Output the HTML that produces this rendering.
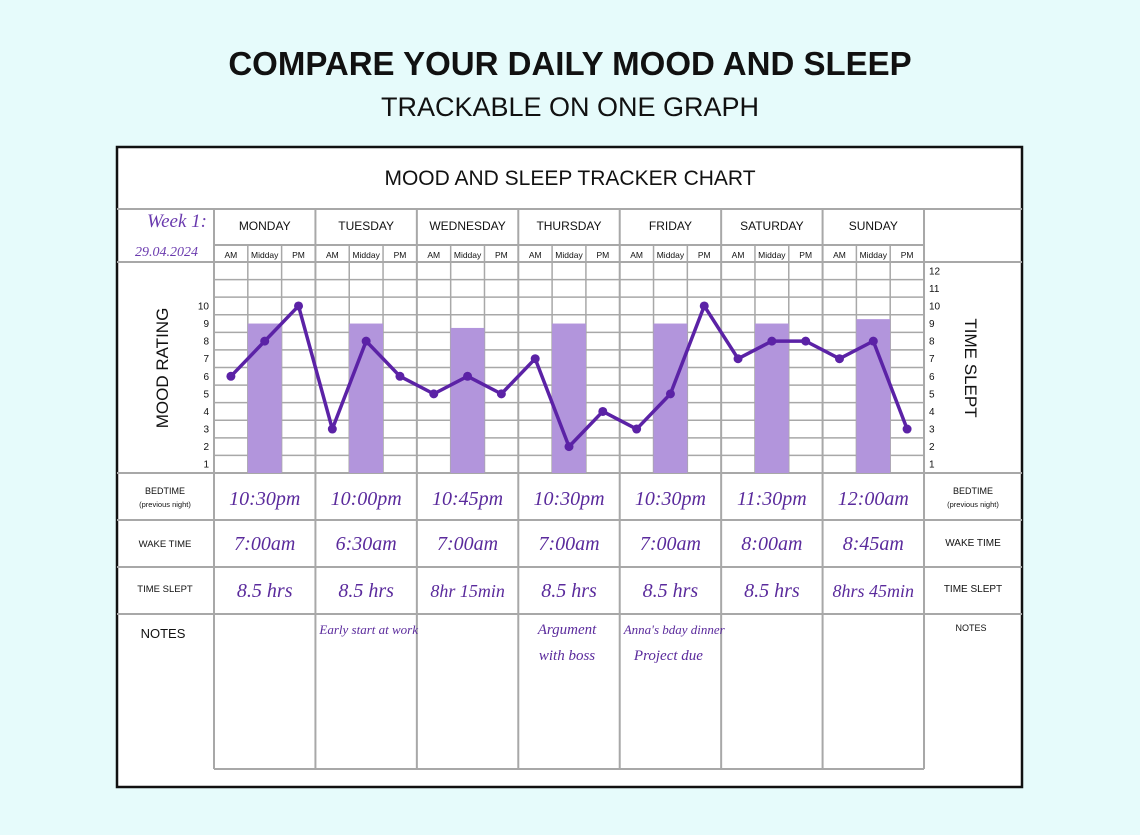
<!DOCTYPE html>
<html><head><meta charset="utf-8"><style>
body{margin:0;background:#e6fbfb;width:1140px;height:835px;overflow:hidden;font-family:"Liberation Sans",sans-serif}
svg{display:block}
.hd{font-family:"Liberation Sans",sans-serif;fill:#111}
.sc{font-family:"Liberation Serif",serif;font-style:italic;fill:#5a2a9c}
</style></head><body>
<svg id="s" width="1140" height="835">
<text x="570" y="75" text-anchor="middle" font-size="33" font-weight="bold" class="hd">COMPARE YOUR DAILY MOOD AND SLEEP</text>
<text x="570" y="116" text-anchor="middle" font-size="27" class="hd">TRACKABLE ON ONE GRAPH</text>
<rect x="117" y="147" width="905" height="640" fill="#fff" stroke="#111" stroke-width="2.5"/>
<text x="570" y="185" text-anchor="middle" font-size="21" class="hd">MOOD AND SLEEP TRACKER CHART</text>
<g id="grid"></g>
<g id="bars"></g>
<g id="line"></g>
<g id="txt"></g>
</svg>
<script>
const days=["MONDAY","TUESDAY","WEDNESDAY","THURSDAY","FRIDAY","SATURDAY","SUNDAY"];
const mood=[6,8,10,3,8,6,5,6,5,7,2,4,3,5,10,7,8,8,7,8,3];
const sleep=[8.5,8.5,8.25,8.5,8.5,8.5,8.75];
const yTicks=[1,2,3,4,5,6,7,8,9,10];
const rTicks=[1,2,3,4,5,6,7,8,9,10,11,12];
const bed=["10:30pm","10:00pm","10:45pm","10:30pm","10:30pm","11:30pm","12:00am"];
const wake=["7:00am","6:30am","7:00am","7:00am","7:00am","8:00am","8:45am"];
const slept=["8.5 hrs","8.5 hrs","8hr 15min","8.5 hrs","8.5 hrs","8.5 hrs","8hrs 45min"];
const notes=[[],["Early start at work"],[],["Argument","with boss"],["Anna's bday dinner","Project due"],[],[]];

const NS="http://www.w3.org/2000/svg";
function mk(p,t,a,txt){const e=document.createElementNS(NS,t);for(const k in a)e.setAttribute(k,a[k]);if(txt!==undefined)e.textContent=txt;document.getElementById(p).appendChild(e);return e;}
const X0=214,DW=101.43,GT=262,GB=473,RH=(GB-GT)/12;
const dx=i=>X0+i*DW;
const sx=i=>X0+(i+0.5)*DW/3;
const yMood=v=>GT+(12-v+0.5)*RH;
const yHrs=v=>GB-v*RH;
const G="#a8a8a8";
function ln(x1,y1,x2,y2,w){const l=mk("grid","line",{x1,y1,x2,y2,stroke:G,"stroke-width":w||2});}
// horizontal lines
ln(117,209,1022,209);ln(214,245,924,245);ln(214,262,924,262,2);ln(117,262,1022,262);
for(let k=1;k<12;k++)ln(214,GT+k*RH,924,GT+k*RH,1.5);
[473,520,567,614].forEach(y=>ln(117,y,1022,y));
ln(214,769,924,769);
// verticals
for(let i=0;i<=7;i++)ln(dx(i),209,dx(i),769);
for(let i=0;i<7;i++){for(let j=1;j<3;j++)ln(dx(i)+j*DW/3,245,dx(i)+j*DW/3,GB,1.5);}
// day headers
days.forEach((d,i)=>{
 const t=mk("txt","text",{x:dx(i)+DW/2,y:230,"text-anchor":"middle","font-size":12,class:"hd"},d);
 
 ["AM","Midday","PM"].forEach((s,j)=>{const u=mk("txt","text",{x:sx(i*3+j),y:258,"text-anchor":"middle","font-size":8.5,class:"hd"},s);
 });
 const b=mk("txt","text",{x:dx(i)+DW/2,y:505,"text-anchor":"middle","font-size":20,class:"sc"},bed[i]);
 
 const w=mk("txt","text",{x:dx(i)+DW/2,y:550,"text-anchor":"middle","font-size":20,class:"sc"},wake[i]);
 
 const s=mk("txt","text",{x:dx(i)+DW/2,y:597,"text-anchor":"middle","font-size":slept[i].length>8?18:20,class:"sc"},slept[i]);
 
 notes[i].forEach((n,k)=>{const e=mk("txt","text",{x:n.length>12?dx(i)+4:dx(i)+DW/2-2,y:634+k*26,"text-anchor":n.length>12?"start":"middle","font-size":n.length>15?13:15,class:"sc"},n);
 });
});
// sleep bars
sleep.forEach((v,i)=>{const r=mk("bars","rect",{x:dx(i)+DW/3,y:yHrs(v),width:DW/3,height:GB-yHrs(v),fill:"#b295dc"});
});
// mood line
const pl=mk("line","polyline",{points:mood.map((v,i)=>sx(i)+","+yMood(v)).join(" "),fill:"none",stroke:"#5b22a6","stroke-width":3.5,"stroke-linejoin":"round"});

mood.forEach((v,i)=>{const c=mk("line","circle",{cx:sx(i),cy:yMood(v),r:4.5,fill:"#5b22a6"});
});
// ticks
yTicks.forEach(v=>{const t=mk("txt","text",{x:209,y:yMood(v)+3.5,"text-anchor":"end","font-size":10,class:"hd"},v);
});
rTicks.forEach(v=>{const t=mk("txt","text",{x:929,y:yMood(v)+3.5,"font-size":10,class:"hd"},v);
});
</script>
<svg width="0" height="0" style="position:absolute"></svg>
<div style="position:absolute;left:0;top:0;width:1140px;height:835px;pointer-events:none">
<svg width="1140" height="835">
<text x="147" y="227" font-size="19" font-family="Liberation Serif,serif" font-style="italic" fill="#6a3aae">Week 1:</text>
<text x="135" y="256" font-size="14" font-family="Liberation Serif,serif" font-style="italic" fill="#6a3aae">29.04.2024</text>
<text transform="translate(168,368) rotate(-90)" text-anchor="middle" font-size="17" fill="#111" font-family="Liberation Sans,sans-serif">MOOD RATING</text>
<text transform="translate(965,368) rotate(90)" text-anchor="middle" font-size="17" fill="#111" font-family="Liberation Sans,sans-serif">TIME SLEPT</text>
<g font-family="Liberation Sans,sans-serif" fill="#111" text-anchor="middle">
<text x="165" y="494" font-size="9">BEDTIME</text>
<text x="165" y="507" font-size="7.5">(previous night)</text>
<text x="973" y="494" font-size="9">BEDTIME</text>
<text x="973" y="507" font-size="7.5">(previous night)</text>
<text x="165" y="547" font-size="9.5">WAKE TIME</text>
<text x="973" y="546" font-size="10">WAKE TIME</text>
<text x="165" y="592" font-size="9.5">TIME SLEPT</text>
<text x="973" y="592" font-size="10">TIME SLEPT</text>
<text x="163" y="638" font-size="13">NOTES</text>
<text x="971" y="631" font-size="9">NOTES</text>
</g></svg></div>
</body></html>
